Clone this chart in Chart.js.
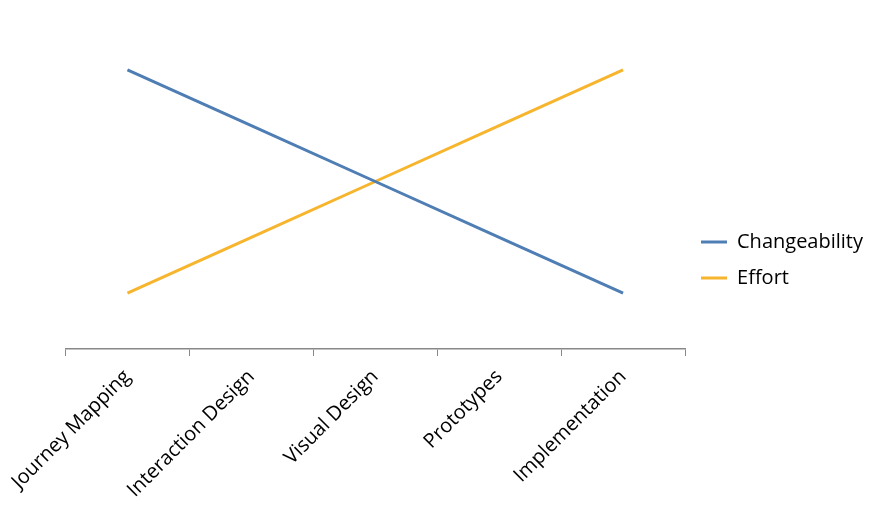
<!DOCTYPE html>
<html lang="en">
<head>
    <meta charset="UTF-8">
    <title>Changeability vs Effort</title>
    <script src="https://cdn.jsdelivr.net/npm/chart.js@4"></script>
    <style>
        html, body { margin: 0; padding: 0; background: #fff; }
        #box { width: 880px; height: 520px; }
    </style>
</head>
<body>
    <div id="box"><canvas id="canvas_grafico"></canvas></div>

    <script>
        // dados do grafico
        var categorias = ['Journey Mapping', 'Interaction Design', 'Visual Design', 'Prototypes', 'Implementation']
        var changeability = [5, 4, 3, 2, 1]
        var effort = [1, 2, 3, 4, 5]

        var fonte = "'Open Sans', 'Noto Sans', sans-serif"

        const ctx = document.getElementById('canvas_grafico').getContext('2d');
        const myChart = new Chart(ctx, {
            type: 'line',
            data: {
                labels: categorias,
                datasets: [{
                    label: 'Changeability',
                    data: changeability,
                    borderColor: '#4E7EB4',
                    backgroundColor: '#4E7EB4',
                    borderWidth: 3,
                    pointRadius: 0,
                    tension: 0
                }, {
                    label: 'Effort',
                    data: effort,
                    borderColor: '#F7B52E',
                    backgroundColor: '#F7B52E',
                    borderWidth: 3,
                    pointRadius: 0,
                    tension: 0
                }]
            },
            options: {
                responsive: true,
                maintainAspectRatio: false,
                animation: false,
                layout: {
                    padding: { top: 14, left: 65, right: 7, bottom: 14 }
                },
                plugins: {
                    tooltip: { enabled: false },
                    legend: {
                        position: 'right',
                        labels: {
                            usePointStyle: true,
                            pointStyle: 'line',
                            pointStyleWidth: 26,
                            padding: 16,
                            color: '#000',
                            font: { family: fonte, size: 20 }
                        }
                    }
                },
                scales: {
                    x: {
                        offset: true,
                        grid: {
                            offset: true,
                            drawOnChartArea: false,
                            drawTicks: true,
                            tickLength: 7,
                            color: '#888'
                        },
                        border: { color: '#888', width: 1.5 },
                        ticks: {
                            minRotation: 45,
                            maxRotation: 45,
                            padding: 9,
                            color: '#000',
                            font: { family: fonte, size: 20 }
                        },
                        afterFit: function (s) { s.height = 157; }
                    },
                    y: {
                        display: false,
                        min: 0,
                        max: 6
                    }
                }
            }
        });
    </script>
</body>
</html>
